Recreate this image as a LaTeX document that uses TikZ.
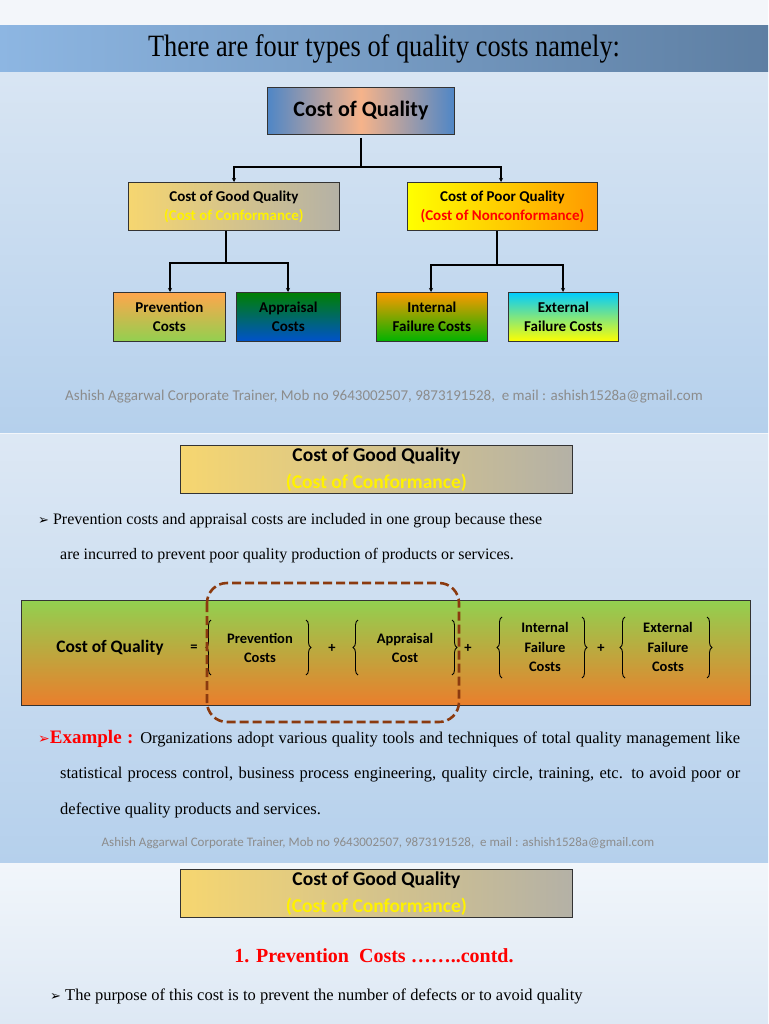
\documentclass[tikz,border=0pt]{standalone}
\usepackage{fontspec}
\setmainfont{Liberation Serif}
\newfontfamily\crlfont{Carlito}
\newfontfamily\djv{DejaVu Sans}
\usetikzlibrary{arrows.meta,decorations.pathreplacing}
\definecolor{pagebg}{HTML}{F3F6FA}
\definecolor{slidetop}{HTML}{DDE8F4}
\definecolor{slidebot}{HTML}{B5D0EC}
\definecolor{brown}{HTML}{8B3A0F}
\definecolor{titleL}{HTML}{8DB6E2}
\definecolor{titleR}{HTML}{5E7FA3}
\definecolor{tanL}{HTML}{F6D670}
\definecolor{tanR}{HTML}{B4B1A6}
\definecolor{barG}{HTML}{92D050}
\definecolor{barO}{HTML}{EA7E2C}
\definecolor{cqBlue}{HTML}{4F86C6}
\definecolor{cqOr}{HTML}{F6B38A}
\begin{document}
\begin{tikzpicture}[x=1pt,y=-1pt,
  box/.style={draw=black!80,line width=0.8pt,font=\crlfont\bfseries\fontsize{15}{19}\selectfont,align=center,anchor=north west,inner sep=0pt},
  conn/.style={line width=1.3pt,-{Stealth[length=4pt,width=4pt]}},
  plain/.style={line width=1.3pt},
  brc/.style={decorate,decoration={brace,amplitude=5pt},line width=0.9pt},
  foot/.style={font=\crlfont\fontsize{13}{15}\selectfont,text=black!45},
  eqt/.style={font=\crlfont\bfseries\fontsize{14.5}{19.5}\selectfont,align=center}]
\useasboundingbox (0,0) rectangle (768,1024);
\fill[pagebg] (0,0) rectangle (768,1024);
% slide 1
\shade[top color=slidetop,bottom color=slidebot] (0,26) rectangle (768,432);
\shade[left color=titleL,right color=titleR] (0,26) rectangle (768,72);
\node[font=\fontsize{31}{34}\selectfont] (title) at (384,49) {\addfontfeature{FakeStretch=0.85}There are four types of quality costs namely:};
\node[box,minimum width=187pt,minimum height=47pt,left color=cqBlue,right color=cqBlue,middle color=cqOr,font=\crlfont\bfseries\fontsize{22}{26}\selectfont] (coq) at (267,87) {Cost of Quality};
\node[box,minimum width=211pt,minimum height=48pt,left color=tanL,right color=tanR] (good) at (128,182) {Cost of Good Quality\\\textcolor{yellow}{(Cost of Conformance)}};
\node[box,minimum width=190pt,minimum height=48pt,left color=yellow,right color=orange!80!yellow] (poor) at (407,182) {Cost of Poor Quality\\\textcolor{red}{(Cost of Nonconformance)}};
\node[box,minimum width=112pt,minimum height=49pt,top color=orange!70!white,middle color=orange!80,bottom color=barG] (prev) at (113,292) {Prevention\\Costs};
\node[box,minimum width=104pt,minimum height=49pt,top color=green!50!black,bottom color=blue!60!cyan!80!black] (appr) at (236,292) {Appraisal\\Costs};
\node[box,minimum width=111pt,minimum height=49pt,top color=orange!80!yellow,middle color=yellow!90!orange,bottom color=green!70!black] (intf) at (376,292) {Internal\\Failure Costs};
\node[box,minimum width=110pt,minimum height=49pt,top color=cyan!80!blue,middle color=cyan!40!yellow!80,bottom color=yellow] (extf) at (508,292) {External\\Failure Costs};
\coordinate (j0) at (361,138);
\coordinate (j1) at (361,167);
\draw[plain] (j0) -- (j1);
\draw[conn] (j1) -| (good.north -| 234,0);
\draw[conn] (j1) -| (poor.north -| 501,0);
\coordinate (g1) at (226,263);
\draw[plain] (good.south -| g1) -- (g1);
\draw[conn] (g1) -| (prev.north -| 170,0);
\draw[conn] (g1) -| (appr.north -| 288,0);
\coordinate (p1) at (497,265);
\draw[plain] (poor.south -| p1) -- (p1);
\draw[conn] (p1) -| (intf.north -| 431,0);
\draw[conn] (p1) -| (extf.north -| 563,0);
\node[foot,font=\crlfont\fontsize{15}{17}\selectfont] (f1) at (384,397) {Ashish Aggarwal Corporate Trainer, Mob no 9643002507, 9873191528,\ \ e mail : ashish1528a@gmail.com};
% slide 2
\shade[top color=slidetop,bottom color=slidebot] (0,434) rectangle (768,862);
\node[box,minimum width=392pt,minimum height=48pt,left color=tanL,right color=tanR,font=\crlfont\bfseries\fontsize{19.5}{27}\selectfont] (good2) at (180,445) {Cost of Good Quality\\\textcolor{yellow}{(Cost of Conformance)}};
\node[anchor=west,font=\fontsize{16}{18}\selectfont,inner sep=0pt] (b1) at (38,521) {{\djv\fontsize{13}{14}\selectfont ➢} Prevention costs and appraisal costs are included in one group because these};
\node[anchor=west,font=\fontsize{16}{18}\selectfont,inner sep=0pt] (b2) at (60,556) {are incurred to prevent poor quality production of products or services.};
\node[box,minimum width=729pt,minimum height=105pt,top color=barG,bottom color=barO] (bar) at (21,600) {};
\node[eqt,font=\crlfont\bfseries\fontsize{17.5}{20}\selectfont] (eqcoq) at (110,648) {Cost of Quality};
\node[eqt] (eq) at (194,648) {=};
\node[eqt] (t1) at (260,648) {Prevention\\Costs};
\node[eqt] (pl1) at (332,648) {+};
\node[eqt] (t2) at (405,648) {Appraisal\\Cost};
\node[eqt] (pl2) at (468,648) {+};
\node[eqt] (t3) at (545,647) {Internal\\Failure\\Costs};
\node[eqt] (pl3) at (601,648) {+};
\node[eqt] (t4) at (668,647) {External\\Failure\\Costs};
\foreach \n/\l/\r/\tp/\bt in {t1/211/306/620/675,t2/358/452/620/675,t3/502/582/617/678,t4/625/707/617/678}{
  \draw[brc] (\l,\bt) -- (\l,\tp);
  \draw[brc] (\r,\tp) -- (\r,\bt);
}
\draw[brown,line width=2.6pt,dash pattern=on 9pt off 4pt,rounded corners=20pt] (207,583) rectangle (459,722);
\node[anchor=north west,text width=702pt,font=\fontsize{16.5}{35.5}\selectfont,align=justify,inner sep=0pt] (ex) at (38,730) {\hangindent=22pt\hangafter=1\textcolor{red}{{\djv\fontsize{14}{35}\selectfont ➢}\fontsize{19}{35.5}\selectfont\bfseries Example :} Organizations adopt various quality tools and techniques of total quality management like statistical process control, business process engineering, quality circle, training, etc. to avoid poor or defective quality products and services.\par};
\node[foot] (f2) at (378,843) {Ashish Aggarwal Corporate Trainer, Mob no 9643002507, 9873191528,\ \ e mail : ashish1528a@gmail.com};
% slide 3
\shade[top color=white!60!slidetop,bottom color=slidetop] (0,864) rectangle (768,1024);
\node[box,minimum width=392pt,minimum height=48pt,left color=tanL,right color=tanR,font=\crlfont\bfseries\fontsize{19.5}{27}\selectfont] (good3) at (180,869) {Cost of Good Quality\\\textcolor{yellow}{(Cost of Conformance)}};
\node[font=\fontsize{20}{22}\selectfont\bfseries,text=red] (pc) at (374,956) {1. Prevention\ \ Costs ……..contd.};
\node[anchor=west,font=\fontsize{16.5}{18}\selectfont,inner sep=0pt] (b3) at (50,996) {{\djv\fontsize{13}{14}\selectfont ➢} The purpose of this cost is to prevent the number of defects or to avoid quality};
\end{tikzpicture}
\end{document}
